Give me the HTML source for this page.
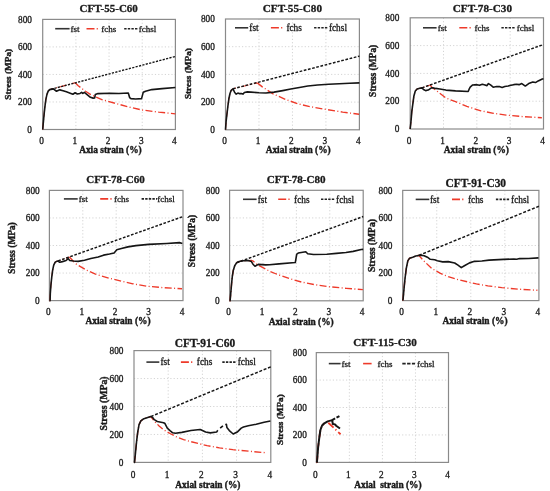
<!DOCTYPE html>
<html><head><meta charset="utf-8"><style>
html,body{margin:0;padding:0;background:#fff;width:550px;height:491px;overflow:hidden}
svg{display:block;will-change:transform;filter:blur(0.3px)}
text{font-family:"Liberation Serif",serif;fill:#1a1a1a}
.t{font-size:9.3px;stroke:#1a1a1a;stroke-width:0.3px}
.lg{font-size:9px;stroke:#1a1a1a;stroke-width:0.3px}
.ti{font-size:11.1px;font-weight:bold;stroke:#1a1a1a;stroke-width:0.3px}
.ax{font-size:9.4px;font-weight:bold;stroke:#1a1a1a;stroke-width:0.4px}
</style></head><body>
<svg width="550" height="491" viewBox="0 0 550 491">
<rect width="550" height="491" fill="#fff"/>
<line x1="75.88" y1="19.40" x2="75.88" y2="129.50" stroke="#d4d4d4" stroke-width="1" stroke-dasharray="1.2 2.1"/>
<line x1="109.05" y1="19.40" x2="109.05" y2="129.50" stroke="#d4d4d4" stroke-width="1" stroke-dasharray="1.2 2.1"/>
<line x1="142.22" y1="19.40" x2="142.22" y2="129.50" stroke="#d4d4d4" stroke-width="1" stroke-dasharray="1.2 2.1"/>
<line x1="42.70" y1="101.97" x2="175.40" y2="101.97" stroke="#d4d4d4" stroke-width="1" stroke-dasharray="1.2 2.1"/>
<line x1="42.70" y1="74.45" x2="175.40" y2="74.45" stroke="#d4d4d4" stroke-width="1" stroke-dasharray="1.2 2.1"/>
<line x1="42.70" y1="46.92" x2="175.40" y2="46.92" stroke="#d4d4d4" stroke-width="1" stroke-dasharray="1.2 2.1"/>
<rect x="42.70" y="19.40" width="132.70" height="110.10" fill="none" stroke="#8a8a8a" stroke-width="1.2"/>
<text x="32.00" y="132.70" text-anchor="end" class="t">0</text>
<text x="32.00" y="105.17" text-anchor="end" class="t">200</text>
<text x="32.00" y="77.65" text-anchor="end" class="t">400</text>
<text x="32.00" y="50.12" text-anchor="end" class="t">600</text>
<text x="32.00" y="22.60" text-anchor="end" class="t">800</text>
<text x="41.70" y="143.80" text-anchor="middle" class="t">0</text>
<text x="74.88" y="143.80" text-anchor="middle" class="t">1</text>
<text x="108.05" y="143.80" text-anchor="middle" class="t">2</text>
<text x="141.22" y="143.80" text-anchor="middle" class="t">3</text>
<text x="174.40" y="143.80" text-anchor="middle" class="t">4</text>
<text x="108.70" y="12.40" text-anchor="middle" class="ti" style="font-size:11.0px">CFT-55-C60</text>
<text x="110.40" y="153.30" text-anchor="middle" class="ax" xml:space="preserve">Axia strain (%)</text>
<text transform="translate(10.90,74.30) rotate(-90)" text-anchor="middle" class="ax" style="font-size:9.26px">Stress (MPa)</text>
<path d="M42.70,129.50 L43.60,119.59 L44.29,112.43 L45.09,105.42 L45.88,99.36 L47.01,94.13 L48.21,91.10 L49.67,89.59 L75.21,82.71 " fill="none" stroke="#ee3a2a" stroke-width="1.1" stroke-dasharray="7 2.4 1 2.4" stroke-linejoin="round"/>
<path d="M75.21,82.71 L78.20,85.74 L85.50,91.24 L90.80,94.68 L102.41,99.77 L116.35,103.63 L128.95,107.07 L141.89,109.96 L158.81,112.16 L175.40,113.81 " fill="none" stroke="#ee3a2a" stroke-width="1.35" stroke-dasharray="7 2.4 1 2.4" stroke-linejoin="round"/>
<path d="M42.70,129.50 L43.60,119.59 L44.29,112.43 L45.09,105.42 L45.88,99.36 L47.01,94.13 L48.21,91.10 L49.67,89.59 L53.32,88.90 L56.50,91.24 L59.79,89.86 L63.10,90.69 L66.39,91.79 L69.57,92.89 L72.89,94.27 L75.11,92.75 L77.30,93.99 L79.99,93.44 L81.61,92.34 L82.84,93.44 L84.40,92.34 L87.09,94.54 L90.41,97.30 L93.09,98.12 L94.69,97.85 L95.28,94.54 L98.00,93.58 L110.05,93.30 L119.00,93.44 L128.29,93.03 L129.62,97.57 L130.95,98.67 L135.59,98.95 L141.56,98.67 L143.22,92.34 L145.54,91.24 L151.85,89.59 L162.13,88.63 L175.40,87.52 " fill="none" stroke="#151515" stroke-width="1.6" stroke-linejoin="round"/>
<path d="M50.99,89.31 L175.40,56.42 " fill="none" stroke="#151515" stroke-width="1.35" stroke-dasharray="2.2 1.3"/>
<line x1="55.2" y1="28.7" x2="69.6" y2="28.7" stroke="#333" stroke-width="1.6"/>
<text x="70.5" y="31.90" class="lg" style="font-size:9px">fst</text>
<line x1="86.5" y1="28.7" x2="97.8" y2="28.7" stroke="#ee3a2a" stroke-width="1.6" stroke-dasharray="8 2.2 1.2 9"/>
<text x="101.3" y="31.90" class="lg" style="font-size:9px">fchs</text>
<line x1="124.2" y1="28.7" x2="138.2" y2="28.7" stroke="#222" stroke-width="1.6" stroke-dasharray="2.4 1.2"/>
<text x="138.8" y="31.90" class="lg" style="font-size:9px">fchsl</text>
<line x1="258.98" y1="19.00" x2="258.98" y2="129.80" stroke="#d4d4d4" stroke-width="1" stroke-dasharray="1.2 2.1"/>
<line x1="292.45" y1="19.00" x2="292.45" y2="129.80" stroke="#d4d4d4" stroke-width="1" stroke-dasharray="1.2 2.1"/>
<line x1="325.92" y1="19.00" x2="325.92" y2="129.80" stroke="#d4d4d4" stroke-width="1" stroke-dasharray="1.2 2.1"/>
<line x1="225.50" y1="102.10" x2="359.40" y2="102.10" stroke="#d4d4d4" stroke-width="1" stroke-dasharray="1.2 2.1"/>
<line x1="225.50" y1="74.40" x2="359.40" y2="74.40" stroke="#d4d4d4" stroke-width="1" stroke-dasharray="1.2 2.1"/>
<line x1="225.50" y1="46.70" x2="359.40" y2="46.70" stroke="#d4d4d4" stroke-width="1" stroke-dasharray="1.2 2.1"/>
<rect x="225.50" y="19.00" width="133.90" height="110.80" fill="none" stroke="#8a8a8a" stroke-width="1.2"/>
<text x="214.90" y="133.00" text-anchor="end" class="t">0</text>
<text x="214.90" y="105.30" text-anchor="end" class="t">200</text>
<text x="214.90" y="77.60" text-anchor="end" class="t">400</text>
<text x="214.90" y="49.90" text-anchor="end" class="t">600</text>
<text x="214.90" y="22.20" text-anchor="end" class="t">800</text>
<text x="224.50" y="143.80" text-anchor="middle" class="t">0</text>
<text x="257.98" y="143.80" text-anchor="middle" class="t">1</text>
<text x="291.45" y="143.80" text-anchor="middle" class="t">2</text>
<text x="324.92" y="143.80" text-anchor="middle" class="t">3</text>
<text x="358.40" y="143.80" text-anchor="middle" class="t">4</text>
<text x="292.40" y="11.80" text-anchor="middle" class="ti" style="font-size:11.2px">CFT-55-C80</text>
<text x="298.20" y="152.50" text-anchor="middle" class="ax" xml:space="preserve">Axial strain (%)</text>
<text transform="translate(191.10,73.60) rotate(-90)" text-anchor="middle" class="ax" style="font-size:9.28px">Stress (MPa)</text>
<path d="M225.50,129.80 L226.10,121.49 L226.91,114.29 L227.91,105.98 L228.85,98.78 L229.99,93.51 L231.19,90.33 L233.00,88.80 L257.30,82.85 " fill="none" stroke="#ee3a2a" stroke-width="1.1" stroke-dasharray="7 2.4 1 2.4" stroke-linejoin="round"/>
<path d="M257.30,82.85 L262.32,86.87 L272.70,93.65 L285.75,99.47 L298.14,103.90 L310.86,106.81 L323.58,109.03 L342.66,112.07 L359.07,114.29 " fill="none" stroke="#ee3a2a" stroke-width="1.35" stroke-dasharray="7 2.4 1 2.4" stroke-linejoin="round"/>
<path d="M225.50,129.80 L226.10,121.49 L226.91,114.29 L227.91,105.98 L228.85,98.78 L229.99,93.51 L231.19,90.33 L233.00,88.80 L234.71,92.54 L236.21,94.07 L237.89,93.10 L239.56,93.65 L241.23,93.51 L242.91,94.07 L244.41,92.54 L247.39,91.85 L250.94,92.13 L258.98,92.68 L265.90,92.96 L274.04,92.13 L282.71,90.60 L290.78,89.08 L299.41,87.42 L307.82,86.03 L317.56,85.06 L328.70,84.23 L339.31,83.68 L349.59,83.26 L359.40,82.85 " fill="none" stroke="#151515" stroke-width="1.6" stroke-linejoin="round"/>
<path d="M233.00,88.80 L359.40,56.12 " fill="none" stroke="#151515" stroke-width="1.45" stroke-dasharray="2.7 1.6"/>
<line x1="235.0" y1="27.8" x2="248.2" y2="27.8" stroke="#333" stroke-width="1.6"/>
<text x="249.3" y="31.00" class="lg" style="font-size:9.3px">fst</text>
<line x1="270.9" y1="27.8" x2="283.0" y2="27.8" stroke="#ee3a2a" stroke-width="1.6" stroke-dasharray="8 2.2 1.2 9"/>
<text x="286.4" y="31.00" class="lg" style="font-size:9.3px">fchs</text>
<line x1="314.1" y1="27.8" x2="327.7" y2="27.8" stroke="#222" stroke-width="1.6" stroke-dasharray="2.4 1.2"/>
<text x="328.9" y="31.00" class="lg" style="font-size:9.3px">fchsl</text>
<line x1="443.52" y1="17.80" x2="443.52" y2="129.00" stroke="#d4d4d4" stroke-width="1" stroke-dasharray="1.2 2.1"/>
<line x1="476.85" y1="17.80" x2="476.85" y2="129.00" stroke="#d4d4d4" stroke-width="1" stroke-dasharray="1.2 2.1"/>
<line x1="510.18" y1="17.80" x2="510.18" y2="129.00" stroke="#d4d4d4" stroke-width="1" stroke-dasharray="1.2 2.1"/>
<line x1="410.20" y1="101.20" x2="543.50" y2="101.20" stroke="#d4d4d4" stroke-width="1" stroke-dasharray="1.2 2.1"/>
<line x1="410.20" y1="73.40" x2="543.50" y2="73.40" stroke="#d4d4d4" stroke-width="1" stroke-dasharray="1.2 2.1"/>
<line x1="410.20" y1="45.60" x2="543.50" y2="45.60" stroke="#d4d4d4" stroke-width="1" stroke-dasharray="1.2 2.1"/>
<rect x="410.20" y="17.80" width="133.30" height="111.20" fill="none" stroke="#8a8a8a" stroke-width="1.2"/>
<text x="399.30" y="132.20" text-anchor="end" class="t">0</text>
<text x="399.30" y="104.40" text-anchor="end" class="t">200</text>
<text x="399.30" y="76.60" text-anchor="end" class="t">400</text>
<text x="399.30" y="48.80" text-anchor="end" class="t">600</text>
<text x="399.30" y="21.00" text-anchor="end" class="t">800</text>
<text x="409.20" y="143.80" text-anchor="middle" class="t">0</text>
<text x="442.52" y="143.80" text-anchor="middle" class="t">1</text>
<text x="475.85" y="143.80" text-anchor="middle" class="t">2</text>
<text x="509.18" y="143.80" text-anchor="middle" class="t">3</text>
<text x="542.50" y="143.80" text-anchor="middle" class="t">4</text>
<text x="482.40" y="12.40" text-anchor="middle" class="ti" style="font-size:11.2px">CFT-78-C30</text>
<text x="476.40" y="152.50" text-anchor="middle" class="ax" xml:space="preserve">Axial strain (%)</text>
<text transform="translate(376.10,70.80) rotate(-90)" text-anchor="middle" class="ax" style="font-size:9.48px">Stress (MPa)</text>
<path d="M410.20,129.00 L411.10,120.24 L411.80,111.62 L412.90,103.28 L413.90,95.92 L415.30,91.05 L417.10,88.97 L419.80,88.27 L421.90,87.86 L430.19,84.94 " fill="none" stroke="#ee3a2a" stroke-width="1.1" stroke-dasharray="7 2.4 1 2.4" stroke-linejoin="round"/>
<path d="M430.19,84.94 L431.86,87.30 L437.69,91.61 L445.86,98.00 L455.52,101.62 L466.85,106.34 L480.85,110.79 L493.51,113.29 L506.18,115.10 L523.50,116.63 L541.83,117.74 " fill="none" stroke="#ee3a2a" stroke-width="1.35" stroke-dasharray="7 2.4 1 2.4" stroke-linejoin="round"/>
<path d="M410.20,129.00 L411.10,120.24 L411.80,111.62 L412.90,103.28 L413.90,95.92 L415.30,91.05 L417.10,88.97 L419.80,88.27 L421.90,87.86 L423.53,89.52 L425.60,90.64 L428.20,90.08 L431.39,87.86 L432.86,87.86 L435.59,88.41 L439.86,88.97 L445.86,90.08 L455.52,90.91 L468.19,91.47 L469.52,88.27 L470.19,87.02 L472.68,84.94 L476.85,84.66 L479.52,85.35 L482.32,84.24 L485.01,84.94 L487.01,85.63 L488.41,83.55 L490.51,84.94 L493.18,87.16 L496.61,86.47 L499.31,86.60 L502.11,87.44 L504.81,86.47 L508.18,86.05 L510.91,85.35 L513.71,84.66 L516.41,84.24 L519.11,84.66 L521.81,83.55 L525.30,86.05 L528.70,83.55 L532.80,82.02 L535.50,82.57 L538.20,80.91 L542.30,78.96 L543.50,78.68 " fill="none" stroke="#151515" stroke-width="1.6" stroke-linejoin="round"/>
<path d="M421.90,87.86 L543.50,44.49 " fill="none" stroke="#151515" stroke-width="1.45" stroke-dasharray="2.7 1.6"/>
<line x1="423.0" y1="27.8" x2="436.6" y2="27.8" stroke="#333" stroke-width="1.6"/>
<text x="437.7" y="31.00" class="lg" style="font-size:9.0px">fst</text>
<line x1="459.3" y1="27.8" x2="471.0" y2="27.8" stroke="#ee3a2a" stroke-width="1.6" stroke-dasharray="8 2.2 1.2 9"/>
<text x="474.5" y="31.00" class="lg" style="font-size:9.0px">fchs</text>
<line x1="501.4" y1="27.8" x2="515.0" y2="27.8" stroke="#222" stroke-width="1.6" stroke-dasharray="2.4 1.2"/>
<text x="516.8" y="31.00" class="lg" style="font-size:9.0px">fchsl</text>
<line x1="82.80" y1="190.40" x2="82.80" y2="300.60" stroke="#d4d4d4" stroke-width="1" stroke-dasharray="1.2 2.1"/>
<line x1="116.20" y1="190.40" x2="116.20" y2="300.60" stroke="#d4d4d4" stroke-width="1" stroke-dasharray="1.2 2.1"/>
<line x1="149.60" y1="190.40" x2="149.60" y2="300.60" stroke="#d4d4d4" stroke-width="1" stroke-dasharray="1.2 2.1"/>
<line x1="49.40" y1="273.05" x2="183.00" y2="273.05" stroke="#d4d4d4" stroke-width="1" stroke-dasharray="1.2 2.1"/>
<line x1="49.40" y1="245.50" x2="183.00" y2="245.50" stroke="#d4d4d4" stroke-width="1" stroke-dasharray="1.2 2.1"/>
<line x1="49.40" y1="217.95" x2="183.00" y2="217.95" stroke="#d4d4d4" stroke-width="1" stroke-dasharray="1.2 2.1"/>
<rect x="49.40" y="190.40" width="133.60" height="110.20" fill="none" stroke="#8a8a8a" stroke-width="1.2"/>
<text x="39.70" y="303.80" text-anchor="end" class="t">0</text>
<text x="39.70" y="276.25" text-anchor="end" class="t">200</text>
<text x="39.70" y="248.70" text-anchor="end" class="t">400</text>
<text x="39.70" y="221.15" text-anchor="end" class="t">600</text>
<text x="39.70" y="193.60" text-anchor="end" class="t">800</text>
<text x="48.40" y="314.50" text-anchor="middle" class="t">0</text>
<text x="81.80" y="314.50" text-anchor="middle" class="t">1</text>
<text x="115.20" y="314.50" text-anchor="middle" class="t">2</text>
<text x="148.60" y="314.50" text-anchor="middle" class="t">3</text>
<text x="182.00" y="314.50" text-anchor="middle" class="t">4</text>
<text x="115.60" y="183.40" text-anchor="middle" class="ti" style="font-size:11.05px">CFT-78-C60</text>
<text x="118.00" y="324.20" text-anchor="middle" class="ax" xml:space="preserve">Axial strain (%)</text>
<text transform="translate(15.30,248.00) rotate(-90)" text-anchor="middle" class="ax" style="font-size:9.33px">Stress (MPa)</text>
<path d="M49.40,300.60 L50.07,300.60 L50.30,293.71 L50.90,285.45 L51.60,278.42 L52.61,270.30 L53.71,265.20 L55.21,262.17 L56.71,261.34 L58.08,261.07 L69.44,256.93 " fill="none" stroke="#ee3a2a" stroke-width="1.1" stroke-dasharray="7 2.4 1 2.4" stroke-linejoin="round"/>
<path d="M69.44,256.93 L71.78,259.55 L75.45,263.55 L86.14,270.02 L95.49,274.15 L109.52,278.28 L121.54,281.18 L132.90,283.79 L146.59,286.14 L162.96,287.65 L182.00,288.75 " fill="none" stroke="#ee3a2a" stroke-width="1.35" stroke-dasharray="7 2.4 1 2.4" stroke-linejoin="round"/>
<path d="M49.40,300.60 L50.07,300.60 L50.30,293.71 L50.90,285.45 L51.60,278.42 L52.61,270.30 L53.71,265.20 L55.21,262.17 L56.71,261.34 L58.08,261.07 L59.75,262.31 L62.43,261.62 L66.10,260.51 L68.10,258.59 L69.77,260.51 L73.45,261.07 L78.12,261.34 L84.47,260.24 L90.82,258.59 L98.16,257.07 L103.51,255.14 L109.52,254.04 L114.10,252.94 L116.80,249.77 L121.41,248.53 L127.89,246.88 L135.91,245.64 L148.60,244.40 L166.80,243.43 L179.49,242.61 L182.33,243.43 " fill="none" stroke="#151515" stroke-width="1.6" stroke-linejoin="round"/>
<path d="M58.08,260.93 L183.00,216.57 " fill="none" stroke="#151515" stroke-width="1.45" stroke-dasharray="2.7 1.6"/>
<line x1="63.9" y1="198.9" x2="77.7" y2="198.9" stroke="#333" stroke-width="1.6"/>
<text x="78.8" y="202.10" class="lg" style="font-size:9px">fst</text>
<line x1="100.2" y1="198.9" x2="112.3" y2="198.9" stroke="#ee3a2a" stroke-width="1.6" stroke-dasharray="8 2.2 1.2 9"/>
<text x="114.0" y="202.10" class="lg" style="font-size:9px">fchs</text>
<line x1="141.6" y1="198.9" x2="157.2" y2="198.9" stroke="#222" stroke-width="1.6" stroke-dasharray="2.4 1.2"/>
<text x="157.2" y="202.10" class="lg" style="font-size:9px">fchsl</text>
<line x1="263.00" y1="190.30" x2="263.00" y2="300.80" stroke="#d4d4d4" stroke-width="1" stroke-dasharray="1.2 2.1"/>
<line x1="296.40" y1="190.30" x2="296.40" y2="300.80" stroke="#d4d4d4" stroke-width="1" stroke-dasharray="1.2 2.1"/>
<line x1="329.80" y1="190.30" x2="329.80" y2="300.80" stroke="#d4d4d4" stroke-width="1" stroke-dasharray="1.2 2.1"/>
<line x1="229.60" y1="273.18" x2="363.20" y2="273.18" stroke="#d4d4d4" stroke-width="1" stroke-dasharray="1.2 2.1"/>
<line x1="229.60" y1="245.55" x2="363.20" y2="245.55" stroke="#d4d4d4" stroke-width="1" stroke-dasharray="1.2 2.1"/>
<line x1="229.60" y1="217.93" x2="363.20" y2="217.93" stroke="#d4d4d4" stroke-width="1" stroke-dasharray="1.2 2.1"/>
<rect x="229.60" y="190.30" width="133.60" height="110.50" fill="none" stroke="#8a8a8a" stroke-width="1.2"/>
<text x="219.70" y="304.00" text-anchor="end" class="t">0</text>
<text x="219.70" y="276.38" text-anchor="end" class="t">200</text>
<text x="219.70" y="248.75" text-anchor="end" class="t">400</text>
<text x="219.70" y="221.12" text-anchor="end" class="t">600</text>
<text x="219.70" y="193.50" text-anchor="end" class="t">800</text>
<text x="228.60" y="314.50" text-anchor="middle" class="t">0</text>
<text x="262.00" y="314.50" text-anchor="middle" class="t">1</text>
<text x="295.40" y="314.50" text-anchor="middle" class="t">2</text>
<text x="328.80" y="314.50" text-anchor="middle" class="t">3</text>
<text x="362.20" y="314.50" text-anchor="middle" class="t">4</text>
<text x="296.20" y="183.10" text-anchor="middle" class="ti" style="font-size:11.1px">CFT-78-C80</text>
<text x="301.20" y="324.50" text-anchor="middle" class="ax" xml:space="preserve">Axial strain (%)</text>
<text transform="translate(195.20,241.00) rotate(-90)" text-anchor="middle" class="ax" style="font-size:9.5px">Stress (MPa)</text>
<path d="M229.60,300.80 L230.10,300.80 L230.90,291.68 L231.60,283.53 L232.31,276.49 L233.27,270.41 L234.71,265.72 L236.71,262.68 L239.19,261.57 L243.29,260.74 L248.40,260.61 L251.31,260.47 L253.31,261.16 L257.32,264.61 L264.34,268.34 L269.68,271.24 L276.36,274.00 L289.72,278.70 L302.41,282.29 L314.77,284.64 L327.46,286.57 L346.50,288.37 L362.87,289.61 " fill="none" stroke="#ee3a2a" stroke-width="1.35" stroke-dasharray="7 2.4 1 2.4" stroke-linejoin="round"/>
<path d="M229.60,300.80 L230.10,300.80 L230.90,291.68 L231.60,283.53 L232.31,276.49 L233.27,270.41 L234.71,265.72 L236.71,262.68 L239.19,261.57 L243.29,260.74 L248.40,260.61 L251.41,261.57 L252.98,264.20 L254.98,266.27 L258.32,264.34 L265.67,264.89 L269.51,264.75 L279.10,263.92 L295.30,262.54 L296.70,254.25 L298.20,253.01 L305.79,251.77 L307.69,253.70 L313.50,254.53 L326.79,254.25 L336.48,253.42 L345.90,252.46 L353.18,251.35 L361.20,249.56 L363.20,249.42 " fill="none" stroke="#151515" stroke-width="1.6" stroke-linejoin="round"/>
<path d="M236.71,262.68 L363.20,216.54 " fill="none" stroke="#151515" stroke-width="1.45" stroke-dasharray="2.7 1.6"/>
<line x1="243.0" y1="199.3" x2="256.6" y2="199.3" stroke="#333" stroke-width="1.6"/>
<text x="257.7" y="202.50" class="lg" style="font-size:9.3px">fst</text>
<line x1="278.2" y1="199.3" x2="290.0" y2="199.3" stroke="#ee3a2a" stroke-width="1.6" stroke-dasharray="8 2.2 1.2 9"/>
<text x="294.1" y="202.50" class="lg" style="font-size:9.3px">fchs</text>
<line x1="321.0" y1="199.3" x2="335.0" y2="199.3" stroke="#222" stroke-width="1.6" stroke-dasharray="2.4 1.2"/>
<text x="336.1" y="202.50" class="lg" style="font-size:9.3px">fchsl</text>
<line x1="436.75" y1="190.40" x2="436.75" y2="300.60" stroke="#d4d4d4" stroke-width="1" stroke-dasharray="1.2 2.1"/>
<line x1="470.80" y1="190.40" x2="470.80" y2="300.60" stroke="#d4d4d4" stroke-width="1" stroke-dasharray="1.2 2.1"/>
<line x1="504.85" y1="190.40" x2="504.85" y2="300.60" stroke="#d4d4d4" stroke-width="1" stroke-dasharray="1.2 2.1"/>
<line x1="402.70" y1="273.05" x2="538.90" y2="273.05" stroke="#d4d4d4" stroke-width="1" stroke-dasharray="1.2 2.1"/>
<line x1="402.70" y1="245.50" x2="538.90" y2="245.50" stroke="#d4d4d4" stroke-width="1" stroke-dasharray="1.2 2.1"/>
<line x1="402.70" y1="217.95" x2="538.90" y2="217.95" stroke="#d4d4d4" stroke-width="1" stroke-dasharray="1.2 2.1"/>
<rect x="402.70" y="190.40" width="136.20" height="110.20" fill="none" stroke="#8a8a8a" stroke-width="1.2"/>
<text x="392.50" y="303.80" text-anchor="end" class="t">0</text>
<text x="392.50" y="276.25" text-anchor="end" class="t">200</text>
<text x="392.50" y="248.70" text-anchor="end" class="t">400</text>
<text x="392.50" y="221.15" text-anchor="end" class="t">600</text>
<text x="392.50" y="193.60" text-anchor="end" class="t">800</text>
<text x="401.70" y="314.50" text-anchor="middle" class="t">0</text>
<text x="435.75" y="314.50" text-anchor="middle" class="t">1</text>
<text x="469.80" y="314.50" text-anchor="middle" class="t">2</text>
<text x="503.85" y="314.50" text-anchor="middle" class="t">3</text>
<text x="537.90" y="314.50" text-anchor="middle" class="t">4</text>
<text x="475.80" y="187.20" text-anchor="middle" class="ti" style="font-size:11.45px">CFT-91-C30</text>
<text x="475.00" y="324.20" text-anchor="middle" class="ax" xml:space="preserve">Axial strain (%)</text>
<text transform="translate(374.50,245.50) rotate(-90)" text-anchor="middle" class="ax" style="font-size:9.64px">Stress (MPa)</text>
<path d="M402.70,300.60 L403.11,298.81 L404.10,287.79 L405.08,278.01 L406.31,268.23 L407.81,260.93 L409.61,258.17 L412.71,257.21 L415.71,255.97 L418.81,255.42 L423.13,260.24 L431.81,268.50 L440.50,273.46 L448.19,276.63 L459.09,279.94 L467.74,281.87 L476.42,283.93 L487.82,285.86 L501.79,287.65 L518.47,289.17 L537.40,290.27 " fill="none" stroke="#ee3a2a" stroke-width="1.35" stroke-dasharray="7 2.4 1 2.4" stroke-linejoin="round"/>
<path d="M402.70,300.60 L403.11,298.81 L404.10,287.79 L405.08,278.01 L406.31,268.23 L407.81,260.93 L409.61,258.17 L412.71,257.21 L415.71,255.97 L418.81,255.42 L422.45,255.42 L424.15,255.69 L427.39,257.21 L430.28,259.28 L434.71,259.83 L437.29,260.79 L442.71,261.89 L448.19,261.62 L454.69,262.99 L458.00,265.20 L461.27,267.68 L464.40,265.75 L469.51,262.86 L474.51,261.34 L481.80,260.93 L489.08,260.10 L503.59,259.41 L513.81,259.00 L516.77,259.28 L519.59,258.59 L528.68,258.45 L538.49,257.90 " fill="none" stroke="#151515" stroke-width="1.6" stroke-linejoin="round"/>
<path d="M418.81,255.42 L538.90,206.24 " fill="none" stroke="#151515" stroke-width="1.45" stroke-dasharray="3 1.7"/>
<line x1="415.7" y1="199.4" x2="429.3" y2="199.4" stroke="#333" stroke-width="1.6"/>
<text x="430.0" y="202.60" class="lg" style="font-size:9.3px">fst</text>
<line x1="452.0" y1="199.4" x2="464.0" y2="199.4" stroke="#ee3a2a" stroke-width="1.6" stroke-dasharray="8 2.2 1.2 9"/>
<text x="468.0" y="202.60" class="lg" style="font-size:9.3px">fchs</text>
<line x1="495.9" y1="199.4" x2="510.0" y2="199.4" stroke="#222" stroke-width="1.6" stroke-dasharray="2.4 1.2"/>
<text x="511.1" y="202.60" class="lg" style="font-size:9.3px">fchsl</text>
<line x1="168.20" y1="350.60" x2="168.20" y2="462.40" stroke="#d4d4d4" stroke-width="1" stroke-dasharray="1.2 2.1"/>
<line x1="202.40" y1="350.60" x2="202.40" y2="462.40" stroke="#d4d4d4" stroke-width="1" stroke-dasharray="1.2 2.1"/>
<line x1="236.60" y1="350.60" x2="236.60" y2="462.40" stroke="#d4d4d4" stroke-width="1" stroke-dasharray="1.2 2.1"/>
<line x1="134.00" y1="434.45" x2="270.80" y2="434.45" stroke="#d4d4d4" stroke-width="1" stroke-dasharray="1.2 2.1"/>
<line x1="134.00" y1="406.50" x2="270.80" y2="406.50" stroke="#d4d4d4" stroke-width="1" stroke-dasharray="1.2 2.1"/>
<line x1="134.00" y1="378.55" x2="270.80" y2="378.55" stroke="#d4d4d4" stroke-width="1" stroke-dasharray="1.2 2.1"/>
<rect x="134.00" y="350.60" width="136.80" height="111.80" fill="none" stroke="#8a8a8a" stroke-width="1.2"/>
<text x="123.50" y="465.60" text-anchor="end" class="t">0</text>
<text x="123.50" y="437.65" text-anchor="end" class="t">200</text>
<text x="123.50" y="409.70" text-anchor="end" class="t">400</text>
<text x="123.50" y="381.75" text-anchor="end" class="t">600</text>
<text x="123.50" y="353.80" text-anchor="end" class="t">800</text>
<text x="133.00" y="477.70" text-anchor="middle" class="t">0</text>
<text x="167.20" y="477.70" text-anchor="middle" class="t">1</text>
<text x="201.40" y="477.70" text-anchor="middle" class="t">2</text>
<text x="235.60" y="477.70" text-anchor="middle" class="t">3</text>
<text x="269.80" y="477.70" text-anchor="middle" class="t">4</text>
<text x="205.00" y="346.90" text-anchor="middle" class="ti" style="font-size:11.45px">CFT-91-C60</text>
<text x="207.90" y="487.80" text-anchor="middle" class="ax" xml:space="preserve">Axial strain (%)</text>
<text transform="translate(107.40,403.40) rotate(-90)" text-anchor="middle" class="ax" style="font-size:9.8px">Stress (MPa)</text>
<path d="M134.00,462.40 L134.51,462.40 L135.37,453.88 L136.56,441.72 L137.76,431.93 L139.06,424.67 L140.84,420.89 L143.23,419.08 L147.00,417.82 L150.76,416.56 L154.52,421.45 L159.10,425.93 L163.21,429.56 L170.49,433.75 L177.30,437.25 L183.59,439.62 L189.92,441.44 L207.09,445.63 L219.50,447.87 L232.84,449.68 L250.28,451.36 L266.35,452.76 " fill="none" stroke="#ee3a2a" stroke-width="1.35" stroke-dasharray="7 2.4 1 2.4" stroke-linejoin="round"/>
<path d="M134.00,462.40 L134.51,462.40 L135.37,453.88 L136.56,441.72 L137.76,431.93 L139.06,424.67 L140.84,420.89 L143.23,419.08 L147.00,417.82 L150.76,416.56 L152.47,417.26 L154.31,419.64 L157.29,421.45 L163.58,422.71 L164.99,423.55 L167.31,428.16 L170.01,430.54 L172.71,432.77 L175.48,433.19 L181.81,432.35 L190.91,430.54 L200.01,429.42 L200.79,429.70 L205.61,432.07 L210.30,432.91 L216.59,432.07 L217.79,430.26 M220.18,428.16 L222.92,425.79 M225.31,424.67 L226.41,424.25 L226.89,427.46 L229.32,430.54 L233.18,434.03 L237.22,432.07 L241.22,428.16 L243.44,427.04 L248.30,425.79 L256.20,424.25 L264.10,422.29 L270.39,421.03 " fill="none" stroke="#151515" stroke-width="1.6" stroke-linejoin="round"/>
<path d="M150.76,416.56 L270.80,366.81 " fill="none" stroke="#151515" stroke-width="1.45" stroke-dasharray="3 1.7"/>
<line x1="146.4" y1="362.1" x2="159.3" y2="362.1" stroke="#333" stroke-width="1.6"/>
<text x="160.5" y="365.30" class="lg" style="font-size:9.3px">fst</text>
<line x1="180.9" y1="362.1" x2="193.0" y2="362.1" stroke="#ee3a2a" stroke-width="1.6" stroke-dasharray="8 2.2 1.2 9"/>
<text x="196.8" y="365.30" class="lg" style="font-size:9.3px">fchs</text>
<line x1="222.3" y1="362.1" x2="236.6" y2="362.1" stroke="#222" stroke-width="1.6" stroke-dasharray="2.4 1.2"/>
<text x="237.7" y="365.30" class="lg" style="font-size:9.3px">fchsl</text>
<line x1="349.35" y1="352.60" x2="349.35" y2="462.40" stroke="#d4d4d4" stroke-width="1" stroke-dasharray="1.2 2.1"/>
<line x1="382.40" y1="352.60" x2="382.40" y2="462.40" stroke="#d4d4d4" stroke-width="1" stroke-dasharray="1.2 2.1"/>
<line x1="415.45" y1="352.60" x2="415.45" y2="462.40" stroke="#d4d4d4" stroke-width="1" stroke-dasharray="1.2 2.1"/>
<line x1="316.30" y1="434.95" x2="448.50" y2="434.95" stroke="#d4d4d4" stroke-width="1" stroke-dasharray="1.2 2.1"/>
<line x1="316.30" y1="407.50" x2="448.50" y2="407.50" stroke="#d4d4d4" stroke-width="1" stroke-dasharray="1.2 2.1"/>
<line x1="316.30" y1="380.05" x2="448.50" y2="380.05" stroke="#d4d4d4" stroke-width="1" stroke-dasharray="1.2 2.1"/>
<rect x="316.30" y="352.60" width="132.20" height="109.80" fill="none" stroke="#8a8a8a" stroke-width="1.2"/>
<text x="306.80" y="465.60" text-anchor="end" class="t">0</text>
<text x="306.80" y="438.15" text-anchor="end" class="t">200</text>
<text x="306.80" y="410.70" text-anchor="end" class="t">400</text>
<text x="306.80" y="383.25" text-anchor="end" class="t">600</text>
<text x="306.80" y="355.80" text-anchor="end" class="t">800</text>
<text x="315.30" y="477.50" text-anchor="middle" class="t">0</text>
<text x="348.35" y="477.50" text-anchor="middle" class="t">1</text>
<text x="381.40" y="477.50" text-anchor="middle" class="t">2</text>
<text x="414.45" y="477.50" text-anchor="middle" class="t">3</text>
<text x="447.50" y="477.50" text-anchor="middle" class="t">4</text>
<text x="385.00" y="345.90" text-anchor="middle" class="ti" style="font-size:11.1px">CFT-115-C30</text>
<text x="387.90" y="487.80" text-anchor="middle" class="ax" xml:space="preserve">Axial  strain (%)</text>
<text transform="translate(283.20,419.60) rotate(-90)" text-anchor="middle" class="ax" style="font-size:9.2px">Stress (MPa)</text>
<path d="M316.30,462.40 L316.96,461.99 L318.18,446.75 L319.27,437.83 L320.40,430.01 L322.08,425.48 L324.30,423.28 " fill="none" stroke="#ee3a2a" stroke-width="1.8" stroke-dasharray="7 2.4 1 2.4" stroke-linejoin="round"/>
<path d="M328.30,422.73 L340.59,434.26 " fill="none" stroke="#ee3a2a" stroke-width="1.8" stroke-dasharray="7.2 2.6 1.2 2.6" stroke-linejoin="round"/>
<path d="M316.30,462.40 L316.96,461.99 L318.18,446.75 L319.27,437.83 L320.40,430.01 L322.08,425.48 L324.30,423.28 L327.70,421.36 L332.16,420.13 L332.82,423.97 L335.01,424.38 L336.13,425.75 L340.00,428.50 " fill="none" stroke="#151515" stroke-width="2.0" stroke-linejoin="round"/>
<path d="M332.16,420.13 L339.44,416.01 " fill="none" stroke="#151515" stroke-width="2.0" stroke-dasharray="3.4 1.6"/>
<line x1="328.8" y1="363.6" x2="340.6" y2="363.6" stroke="#333" stroke-width="1.6"/>
<text x="341.6" y="366.80" class="lg" style="font-size:9px">fst</text>
<line x1="363.1" y1="363.6" x2="372.5" y2="363.6" stroke="#ee3a2a" stroke-width="1.6" stroke-dasharray="8.5 20"/>
<text x="377.6" y="366.80" class="lg" style="font-size:9px">fchs</text>
<line x1="402.3" y1="363.6" x2="415.0" y2="363.6" stroke="#222" stroke-width="1.6" stroke-dasharray="3.4 1.4"/>
<text x="417.0" y="366.80" class="lg" style="font-size:9px">fchsl</text>
</svg>
</body></html>
